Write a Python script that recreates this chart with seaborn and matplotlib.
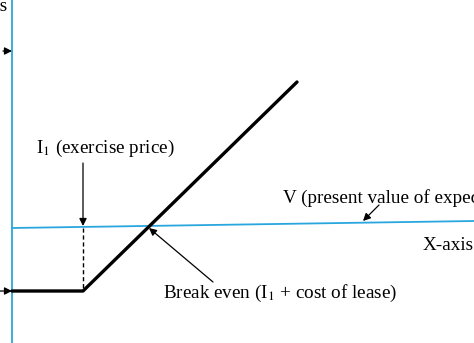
import matplotlib
matplotlib.use("Agg")
import matplotlib.pyplot as plt
import seaborn as sns
import pandas as pd

# Data (chart coordinates, y grows downward like the drawing)
payoff_x = [12, 83, 297]
payoff_y = [291, 291, 82]
value_line_x = [12, 474]
value_line_y = [228, 221]
y_axis_x = [12, 12]
y_axis_y = [0, 343]
strike_x = 83
strike_y = [228, 291]

sns.set_theme(style="white")
plt.rcParams['font.family'] = ['Liberation Serif', 'DejaVu Serif']
plt.rcParams['mathtext.fontset'] = 'stix'

fig = plt.figure(figsize=(4.74, 3.43), dpi=100)
ax = fig.add_axes([0, 0, 1, 1])
ax.set_xlim(0, 474)
ax.set_ylim(343, 0)
ax.axis('off')

blue = "#2aa6de"
sns.lineplot(x=y_axis_x, y=y_axis_y, ax=ax, color=blue, lw=1.3, sort=False, estimator=None)
sns.lineplot(x=value_line_x, y=value_line_y, ax=ax, color=blue, lw=1.3, sort=False, estimator=None)

df = pd.DataFrame({"x": payoff_x, "y": payoff_y})
sns.lineplot(data=df, x="x", y="y", ax=ax, color="black", lw=2.4, sort=False, estimator=None)
ax.plot([strike_x, strike_x], strike_y, color="black", lw=1.0, ls=(0, (3, 2)))

ap = dict(arrowstyle='-|>', color='black', lw=0.9, mutation_scale=11, shrinkA=0, shrinkB=0)
fs = 13.8
ax.text(36, 148, r"I$_1$ (exercise price)", fontsize=fs, ha='left', va='center', color='black')
ax.annotate("", xy=(83, 226), xytext=(83, 163), arrowprops=ap)

ax.text(283, 198, "V (present value of expected cash flows)", fontsize=fs, ha='left', va='center', color='black')
ax.annotate("", xy=(363, 221), xytext=(379, 205), arrowprops=ap)

ax.text(423, 246, "X-axis", fontsize=fs, ha='left', va='center', color='black')

ax.text(163, 293, r"Break even (I$_1$ + cost of lease)", fontsize=fs, ha='left', va='center', color='black')
ax.annotate("", xy=(149, 228), xytext=(213, 282), arrowprops=ap)

ax.text(8, 6, "Payoffs", fontsize=fs, ha='right', va='center', color='black')
ax.annotate("", xy=(12, 51), xytext=(3, 51), arrowprops=ap)
ax.annotate("", xy=(12, 291), xytext=(0, 291), arrowprops=ap)

fig.savefig("out.png", dpi=100)
